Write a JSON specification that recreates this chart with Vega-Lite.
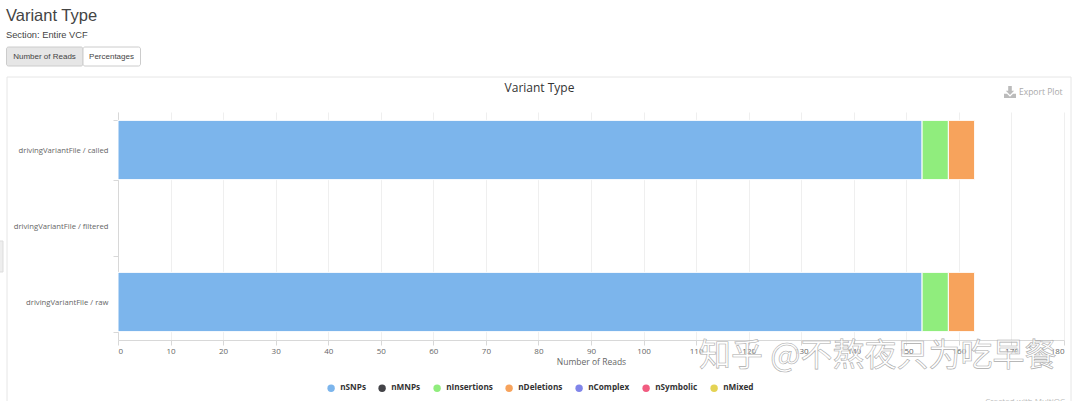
{
"$schema":"https://vega.github.io/schema/vega-lite/v6.json",
"width":946,"height":228,
"autosize":{"type":"none"},
"padding":{"left":118,"top":112,"right":16,"bottom":61},
"background":"#ffffff",
"config":{"view":{"stroke":null},"font":"Open Sans"},
"title":{"text":"Variant Type","subtitle":"Section: Entire VCF","anchor":"start","frame":"group","dx":-112,"offset":6,"font":"Liberation Sans","fontSize":16.5,"fontWeight":"normal","color":"#444444","subtitleFont":"Liberation Sans","subtitleFontSize":9.3,"subtitleColor":"#444444","subtitlePadding":7},
"resolve":{"scale":{"x":"independent","y":"independent"},"axis":{"x":"independent","y":"independent"}},
"layer":[
{"data":{"values":[{}]},"mark":{"type":"rect","fill":"transparent","stroke":"#e6e6e6","clip":false},
 "encoding":{"x":{"datum":7,"type":"quantitative","scale":{"domain":[0,1080],"range":[-118,962],"nice":false,"zero":false},"axis":null},"x2":{"datum":1071},"y":{"datum":77,"type":"quantitative","scale":{"domain":[0,401],"range":[-112,289],"nice":false,"zero":false},"axis":null},"y2":{"datum":420}}},
{"data":{"values":[{}]},"mark":{"type":"rect","fill":"#e6e6e6","stroke":"#cccccc","cornerRadius":2,"clip":false},
 "encoding":{"x":{"datum":6.5,"type":"quantitative","scale":{"domain":[0,1080],"range":[-118,962],"nice":false,"zero":false},"axis":null},"x2":{"datum":83},"y":{"datum":47,"type":"quantitative","scale":{"domain":[0,401],"range":[-112,289],"nice":false,"zero":false},"axis":null},"y2":{"datum":66}}},
{"data":{"values":[{}]},"mark":{"type":"rect","fill":"#ffffff","stroke":"#cccccc","cornerRadius":2,"clip":false},
 "encoding":{"x":{"datum":83,"type":"quantitative","scale":{"domain":[0,1080],"range":[-118,962],"nice":false,"zero":false},"axis":null},"x2":{"datum":140.5},"y":{"datum":47,"type":"quantitative","scale":{"domain":[0,401],"range":[-112,289],"nice":false,"zero":false},"axis":null},"y2":{"datum":66}}},
{"data":{"values":[{}]},"mark":{"type":"rect","fill":"#eeeeee","stroke":"#dddddd","clip":false},
 "encoding":{"x":{"datum":-2,"type":"quantitative","scale":{"domain":[0,1080],"range":[-118,962],"nice":false,"zero":false},"axis":null},"x2":{"datum":3},"y":{"datum":241,"type":"quantitative","scale":{"domain":[0,401],"range":[-112,289],"nice":false,"zero":false},"axis":null},"y2":{"datum":272}}},
{"data":{"values":[
{"sample":"drivingVariantFile / called","type":"nSNPs","reads":153,"rank":1},
{"sample":"drivingVariantFile / called","type":"nInsertions","reads":5,"rank":3},
{"sample":"drivingVariantFile / called","type":"nDeletions","reads":5,"rank":4},
{"sample":"drivingVariantFile / raw","type":"nSNPs","reads":153,"rank":1},
{"sample":"drivingVariantFile / raw","type":"nInsertions","reads":5,"rank":3},
{"sample":"drivingVariantFile / raw","type":"nDeletions","reads":5,"rank":4}
]},
"mark":{"type":"bar","stroke":"#ffffff","strokeWidth":1},
"encoding":{
 "y":{"field":"sample","type":"nominal","sort":null,"scale":{"domain":["drivingVariantFile / called","drivingVariantFile / filtered","drivingVariantFile / raw"],"paddingInner":0.22,"paddingOuter":0.11},
  "axis":{"title":null,"labelFont":"Open Sans","labelFontSize":7.7,"labelColor":"#666666","labelPadding":5,"tickColor":"#d8d8d8","tickSize":5,"tickBand":"extent","domainColor":"#d8d8d8","grid":false}},
 "x":{"field":"reads","type":"quantitative","stack":"zero","scale":{"domain":[0,180],"nice":false},
  "axis":{"title":"Number of Reads","titleFont":"Open Sans","titleFontSize":8.5,"titleFontWeight":"normal","titleColor":"#666666","titlePadding":2,"titleX":473,"values":[0,10,20,30,40,50,60,70,80,90,100,110,120,130,140,150,160,170,180],"labelFont":"Open Sans","labelFontSize":8,"labelColor":"#666666","labelFlush":true,"labelPadding":2,"labelAngle":0,"grid":true,"gridColor":"#efefef","tickColor":"#d8d8d8","tickSize":5,"domainColor":"#d8d8d8"}},
 "color":{"field":"type","type":"nominal","scale":{"domain":["nSNPs","nMNPs","nInsertions","nDeletions","nComplex","nSymbolic","nMixed"],"range":["#7cb5ec","#434348","#90ed7d","#f7a35c","#8085e9","#f15c80","#e4d354"]},
  "legend":{"title":null,"orient":"none","legendX":209,"legendY":272,"direction":"horizontal","columns":7,"symbolType":"circle","symbolSize":55,"symbolStrokeWidth":0,"symbolOpacity":1,"labelFont":"Open Sans","labelFontSize":8.2,"labelFontWeight":"bold","labelColor":"#333333","labelOffset":5,"columnPadding":12}},
 "order":{"field":"rank","type":"quantitative"}}},
{"data":{"values":[{"v":0},{"v":180}]},"mark":{"type":"point","opacity":0,"clip":false},
 "encoding":{"x":{"field":"v","type":"quantitative","scale":{"domain":[0,180],"nice":false},
  "axis":{"orient":"top","title":"Variant Type","titleFont":"Open Sans","titleFontSize":12,"titleFontWeight":"normal","titleColor":"#333333","titleX":421,"titleY":-18,"labels":false,"ticks":false,"domain":false,"grid":false}}}},
{"data":{"values":[{}]},"mark":{"type":"text","font":"Liberation Sans","fontSize":8,"color":"#444444","align":"center","baseline":"middle","clip":false},
 "encoding":{"text":{"value":"Number of Reads"},"x":{"datum":44.5,"type":"quantitative","scale":{"domain":[0,1080],"range":[-118,962],"nice":false,"zero":false},"axis":null},"y":{"datum":56.5,"type":"quantitative","scale":{"domain":[0,401],"range":[-112,289],"nice":false,"zero":false},"axis":null}}},
{"data":{"values":[{}]},"mark":{"type":"text","font":"Liberation Sans","fontSize":8,"color":"#444444","align":"center","baseline":"middle","clip":false},
 "encoding":{"text":{"value":"Percentages"},"x":{"datum":111.5,"type":"quantitative","scale":{"domain":[0,1080],"range":[-118,962],"nice":false,"zero":false},"axis":null},"y":{"datum":56.5,"type":"quantitative","scale":{"domain":[0,401],"range":[-112,289],"nice":false,"zero":false},"axis":null}}},
{"data":{"values":[{}]},"mark":{"type":"text","font":"Open Sans","fontSize":8.5,"color":"#aaaaaa","align":"left","baseline":"middle","clip":false},
 "encoding":{"text":{"value":"Export Plot"},"x":{"datum":1019,"type":"quantitative","scale":{"domain":[0,1080],"range":[-118,962],"nice":false,"zero":false},"axis":null},"y":{"datum":92,"type":"quantitative","scale":{"domain":[0,401],"range":[-112,289],"nice":false,"zero":false},"axis":null}}},
{"data":{"values":[{}]},"mark":{"type":"point","shape":"M-0.3 -1H0.3V-0.2H0.7L0 0.5L-0.7 -0.2H-0.3Z M-1 0.3H-0.5L0 0.8L0.5 0.3H1V1H-1Z","filled":true,"color":"#bbbbbb","opacity":1,"size":144,"clip":false},
 "encoding":{"x":{"datum":1010,"type":"quantitative","scale":{"domain":[0,1080],"range":[-118,962],"nice":false,"zero":false},"axis":null},"y":{"datum":92,"type":"quantitative","scale":{"domain":[0,401],"range":[-112,289],"nice":false,"zero":false},"axis":null}}},
{"data":{"values":[{}]},"mark":{"type":"text","font":"Open Sans","fontSize":8,"color":"#bbbbbb","align":"right","baseline":"middle","clip":false},
 "encoding":{"text":{"value":"Created with MultiQC"},"x":{"datum":1065,"type":"quantitative","scale":{"domain":[0,1080],"range":[-118,962],"nice":false,"zero":false},"axis":null},"y":{"datum":402,"type":"quantitative","scale":{"domain":[0,401],"range":[-112,289],"nice":false,"zero":false},"axis":null}}},
{"data":{"values":[{}]},"mark":{"type":"text","font":"Noto Sans CJK SC","fontSize":32,"fill":"#ffffff","fillOpacity":0.7,"stroke":"#aaaaaa","strokeWidth":0.6,"align":"left","baseline":"middle","clip":false},
 "encoding":{"text":{"value":"知乎 @不熬夜只为吃早餐"},"x":{"datum":699,"type":"quantitative","scale":{"domain":[0,1080],"range":[-118,962],"nice":false,"zero":false},"axis":null},"y":{"datum":356,"type":"quantitative","scale":{"domain":[0,401],"range":[-112,289],"nice":false,"zero":false},"axis":null}}}
]}
